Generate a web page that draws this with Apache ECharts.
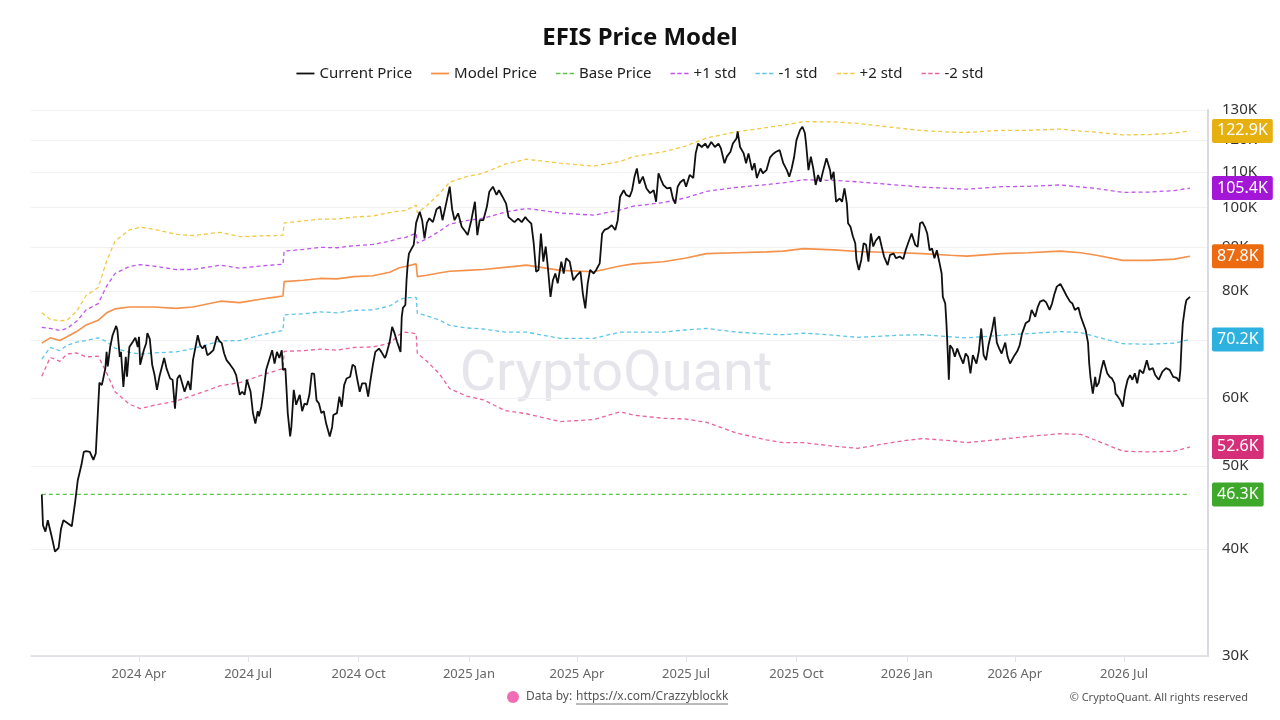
<!DOCTYPE html>
<html><head><meta charset="utf-8">
<script src="https://cdn.jsdelivr.net/npm/echarts@6/dist/echarts.min.js"></script>
<style>html,body{margin:0;padding:0;background:#fff}#c{width:1280px;height:720px}</style>
</head><body><div id="c"></div>
<script>
// x positions are days since 2024-01-02, values in thousands of USD
const START_DATE = '2024-01-02';
const X_END_DAY = 981;
const yTicks = [30,40,50,60,70,80,90,100,110,120,130];
const xTickDates = ['2024-04-01','2024-07-01','2024-10-01','2025-01-01','2025-04-01','2025-07-01','2025-10-01','2026-01-01','2026-04-01','2026-07-01'];
const xTickLabels = ['2024 Apr','2024 Jul','2024 Oct','2025 Jan','2025 Apr','2025 Jul','2025 Oct','2026 Jan','2026 Apr','2026 Jul'];
const seriesNames = ['Current Price','Model Price','Base Price','+1 std','-1 std','+2 std','-2 std'];

const currentPrice = [[9,46.3],[10,42.6],[12,41.9],[14,43.2],[17,41.5],[20,39.7],[23,40.1],[25,42.2],[27,43.2],[30,42.9],[34,42.5],[37,45.6],[39,48.1],[42,50.1],[44,51.9],[46,52.0],[49,51.9],[52,50.8],[54,51.7],[57,62.5],[59,62.1],[60,63.0],[62,65.0],[63,67.9],[64,65.3],[66,68.8],[68,71.0],[71,72.8],[72,72.0],[74,67.0],[75,67.9],[77,61.8],[79,67.0],[80,63.5],[82,68.8],[85,69.8],[87,70.5],[89,68.8],[90,70.7],[91,65.6],[94,68.2],[96,69.5],[97,71.4],[99,70.3],[101,65.6],[103,63.8],[105,61.3],[107,63.5],[111,66.8],[113,64.9],[116,63.2],[118,63.0],[120,58.3],[122,63.2],[124,63.8],[126,62.4],[128,61.0],[131,62.8],[133,61.3],[135,66.4],[139,71.0],[141,69.1],[143,68.5],[145,69.1],[147,67.3],[149,67.6],[152,68.2],[155,70.8],[157,69.9],[159,69.5],[161,67.6],[163,66.4],[166,65.6],[169,64.7],[171,63.8],[174,60.5],[176,61.0],[178,60.5],[180,63.0],[183,61.0],[185,57.6],[187,56.0],[189,57.9],[190,57.1],[192,58.6],[194,61.3],[196,64.7],[199,66.8],[201,68.2],[203,65.8],[205,67.9],[207,66.8],[209,68.2],[210,64.7],[212,64.9],[213,61.3],[214,57.6],[216,54.1],[217,55.5],[219,61.3],[221,58.9],[224,60.5],[226,57.9],[228,59.1],[230,58.9],[232,60.5],[234,64.1],[236,64.0],[238,59.6],[240,59.1],[242,57.6],[244,57.9],[246,56.0],[249,54.1],[251,55.5],[252,57.3],[255,57.6],[257,60.2],[259,58.6],[261,62.1],[263,63.2],[266,63.5],[268,65.6],[270,65.3],[272,63.0],[274,61.0],[276,62.4],[279,62.4],[281,60.2],[283,63.0],[285,65.6],[287,67.9],[290,68.5],[292,67.9],[295,66.8],[296,67.3],[299,69.8],[301,72.6],[303,71.4],[305,69.8],[307,68.5],[308,67.9],[309,74.6],[310,76.4],[312,77.0],[313,82.3],[314,86.1],[315,88.4],[318,90.0],[319,90.5],[321,96.0],[324,98.9],[326,96.7],[328,92.1],[330,96.0],[332,97.2],[335,96.2],[338,99.6],[341,100.3],[343,96.7],[346,101.1],[349,105.8],[351,99.6],[353,96.7],[356,98.5],[359,95.0],[362,93.8],[364,92.9],[367,96.7],[370,101.6],[372,92.9],[374,96.7],[377,96.7],[380,100.3],[382,104.4],[385,105.8],[388,103.5],[390,104.8],[393,103.0],[396,101.1],[398,97.5],[401,96.7],[403,96.2],[406,97.1],[409,96.2],[412,97.5],[414,96.7],[417,95.8],[419,90.9],[421,84.2],[423,84.6],[425,93.3],[427,86.5],[429,90.1],[431,84.6],[433,78.7],[435,82.3],[437,83.8],[439,81.6],[442,86.5],[444,83.8],[446,87.3],[449,86.5],[452,82.3],[455,83.4],[458,84.2],[460,79.3],[462,76.3],[464,81.6],[466,84.6],[469,83.8],[471,84.6],[474,86.1],[476,93.3],[478,94.2],[481,94.6],[484,95.4],[487,94.2],[489,96.7],[491,103.0],[494,104.8],[496,103.5],[499,103.0],[501,104.8],[503,108.7],[505,111.1],[507,106.7],[510,108.7],[513,105.3],[516,104.0],[519,104.8],[521,101.6],[523,109.7],[525,107.9],[527,106.3],[530,105.3],[533,105.5],[535,102.5],[537,101.1],[539,105.8],[541,107.0],[544,107.9],[546,105.8],[549,109.2],[552,108.3],[554,115.7],[556,118.8],[559,117.7],[562,118.8],[564,117.4],[567,119.3],[570,117.7],[573,118.8],[575,117.3],[578,112.7],[580,114.7],[583,116.2],[585,118.8],[588,120.4],[589,122.7],[591,117.7],[594,115.7],[596,112.7],[598,115.7],[601,110.6],[603,112.7],[605,108.3],[608,111.1],[610,109.7],[613,110.6],[616,114.5],[619,115.7],[621,116.2],[624,116.7],[627,112.7],[630,110.6],[632,108.7],[634,111.1],[636,114.5],[638,119.9],[641,123.2],[643,124.3],[645,122.2],[646,118.8],[648,110.6],[650,114.7],[652,111.1],[654,106.3],[656,109.2],[658,107.2],[660,110.1],[663,114.2],[666,110.6],[667,107.9],[669,110.1],[671,101.6],[674,102.5],[676,101.6],[678,105.3],[680,101.1],[681,95.9],[683,95.0],[685,92.6],[687,90.9],[688,86.9],[690,84.6],[692,86.9],[694,90.9],[696,90.5],[698,86.5],[700,93.3],[702,90.1],[704,91.5],[707,92.6],[709,90.1],[711,87.7],[712,88.0],[714,85.7],[716,88.1],[719,88.4],[721,87.3],[724,87.7],[727,87.1],[729,89.2],[731,90.9],[734,93.3],[737,90.5],[739,90.0],[741,95.9],[743,96.2],[745,95.0],[747,93.3],[749,89.2],[751,89.6],[753,87.3],[755,89.2],[757,86.5],[759,83.8],[760,78.7],[762,77.3],[763,73.3],[764,68.2],[765,63.0],[766,69.1],[768,68.5],[770,67.0],[772,68.5],[774,67.3],[777,65.8],[779,67.6],[781,67.0],[783,64.1],[785,67.3],[788,65.8],[790,68.0],[792,72.3],[794,67.3],[796,66.4],[798,69.1],[801,72.0],[803,74.6],[805,69.6],[807,68.5],[809,67.6],[812,69.6],[814,67.0],[816,65.8],[819,67.0],[822,68.0],[824,69.1],[826,71.3],[829,73.3],[832,73.8],[834,76.0],[837,74.6],[839,76.5],[841,77.7],[844,78.0],[846,77.6],[849,76.0],[851,77.3],[853,79.3],[855,80.9],[858,81.5],[859,81.9],[861,80.0],[863,79.0],[866,77.7],[868,77.3],[870,76.0],[873,76.5],[875,74.6],[877,73.3],[879,72.0],[881,69.6],[882,65.8],[883,63.5],[885,60.7],[887,63.5],[888,61.8],[890,62.5],[892,64.7],[894,66.4],[897,64.1],[899,63.5],[901,63.2],[903,62.4],[904,60.7],[906,60.2],[908,59.6],[910,58.6],[912,61.3],[914,63.0],[916,63.8],[918,63.0],[920,64.1],[922,62.4],[924,64.7],[927,64.1],[930,66.4],[932,64.7],[935,65.0],[937,63.8],[940,63.0],[943,64.4],[946,65.0],[949,64.7],[952,63.5],[955,63.3],[957,62.7],[958,64.7],[959,69.5],[960,73.3],[962,76.8],[963,78.0],[964,78.4],[966,78.7]];

const basePrice = [[9,46.3],[966,46.3]];

const bandDays = [9,16,24,30,38,46,56,63,70,82,91,102,121,135,158,174,191,205,210,211,227,241,255,269,285,299,307,312,321,322,330,340,349,363,377,395,413,441,469,491,502,527,545,563,588,613,627,644,669,689,724,743,766,780,809,831,858,875,888,910,932,953,966];

const modelPrice = [69.5,70.5,70.0,70.7,71.7,73.0,73.9,75.4,76.2,76.6,
76.6,76.6,76.3,76.6,77.8,77.5,78.2,78.7,78.9,82.0,
82.3,82.7,82.6,83.1,83.3,84.1,85.1,85.4,86.0,83.1,
83.4,83.9,84.3,84.5,84.7,85.2,85.7,84.5,84.2,85.5,
86.0,86.5,87.3,88.4,88.6,88.8,89.0,89.6,89.3,88.9,
88.6,88.4,88.0,87.8,88.4,88.6,89.0,88.6,88.0,86.8,
86.8,87.1,87.79];

const plus1Std = [72.5,72.3,71.9,72.3,73.7,76.0,77.3,81.0,83.8,85.4,
85.8,85.5,84.7,84.7,85.7,85.0,85.5,85.8,85.9,89.0,
89.4,89.9,89.8,90.3,90.6,91.4,92.1,92.3,93.4,90.9,
92.0,93.8,95.7,96.6,97.2,98.8,99.8,98.6,98.0,99.4,
100.4,101.4,102.6,104.5,105.6,106.4,106.9,107.8,107.6,107.2,
106.2,105.7,105.3,105.1,105.8,105.9,106.3,105.7,105.3,104.2,
104.3,104.7,105.4];

const minus1Std = [66.6,68.7,68.1,69.1,69.7,70.0,70.5,69.8,68.6,67.8,
67.5,67.7,67.9,68.5,69.9,70.0,71.0,71.7,71.9,75.0,
75.2,75.6,75.4,75.9,76.0,76.8,78.1,78.5,78.6,75.3,
74.8,74.0,72.9,72.4,72.2,71.6,71.6,70.4,70.4,71.6,
71.6,71.6,72.0,72.3,71.6,71.2,71.1,71.4,71.0,70.6,
71.0,71.1,70.7,70.5,71.0,71.3,71.7,71.5,70.7,69.4,
69.3,69.5,70.2];

const plus2Std = [75.4,74.1,73.8,73.9,75.7,79.0,80.7,86.6,91.4,94.2,
94.9,94.4,93.1,92.8,93.6,92.5,92.7,92.8,92.9,96.0,
96.5,97.0,97.0,97.5,97.8,98.7,99.1,99.2,100.7,98.6,
100.6,103.7,107.1,108.7,109.7,112.4,113.9,112.7,111.8,113.2,
114.7,116.2,117.9,120.6,122.6,124.0,124.8,126.0,125.9,125.4,
123.8,123.0,122.5,122.4,123.1,123.1,123.5,122.8,122.5,121.6,
121.7,122.2,122.9];

const minus2Std = [63.6,66.9,66.2,67.5,67.7,67.0,67.1,64.2,61.0,59.0,
58.3,58.8,59.5,60.4,62.0,62.5,63.7,64.6,64.9,68.0,
68.1,68.4,68.2,68.7,68.8,69.5,71.1,71.6,71.3,67.6,
66.2,64.1,61.5,60.3,59.7,58.0,57.5,56.3,56.6,57.8,
57.3,56.8,56.7,56.2,54.6,53.6,53.2,53.2,52.7,52.4,
53.4,53.8,53.5,53.2,53.7,54.1,54.5,54.4,53.5,52.0,
51.9,52.0,52.6];

const DAY_MS = 86400000;
const t0 = Date.parse(START_DATE);
const xTickDays = xTickDates.map(s => Math.round((Date.parse(s) - t0) / DAY_MS));
const FONT = "'Noto Sans', 'Open Sans', sans-serif";
const ICON_SOLID = 'path://M0,0M18,10M0,4.1L18,4.1L18,5.9L0,5.9Z';
const ICON_DASH = 'path://M0,0M18,10M0,4.3h4.4v1.4h-4.4zM6.8,4.3h4.4v1.4h-4.4zM13.6,4.3h4.4v1.4h-4.4z';

function badge(color) {
  return {
    show: true,
    formatter: p => Number(p.value[1]).toFixed(1) + 'K',
    backgroundColor: color, color: '#fff', fontSize: 16, fontFamily: FONT,
    padding: [4, 5, 4, 5], borderRadius: 2, distance: 22
  };
}
function bandLine(name, vals, color, badgeColor, dashed) {
  return {
    name, type: 'line', symbol: 'none', showSymbol: false, silent: true, z: 3,
    data: bandDays.map((d, i) => [d, vals[i]]),
    lineStyle: { color, width: dashed ? 1.3 : 1.6, type: dashed ? [4, 3] : 'solid' },
    itemStyle: { color },
    endLabel: badge(badgeColor)
  };
}

const chart = echarts.init(document.getElementById('c'), null, { renderer: 'canvas' });
chart.setOption({
  animation: false,
  backgroundColor: '#fff',
  textStyle: { fontFamily: FONT },
  title: {
    text: 'EFIS Price Model', left: 'center', top: 21,
    textStyle: { fontSize: 24, fontWeight: 'bold', color: '#111', fontFamily: FONT }
  },
  legend: {
    data: seriesNames.map((n, i) => ({ name: n, icon: i < 2 ? ICON_SOLID : ICON_DASH })),
    top: 61, left: 'center',
    itemWidth: 18, itemHeight: 10, itemGap: 19,
    textStyle: { fontSize: 15, color: '#222', fontFamily: FONT }
  },
  grid: { left: 31, right: 72, top: 110, bottom: 64, containLabel: false },
  xAxis: {
    type: 'value', min: 0, max: X_END_DAY,
    axisLine: { show: true, onZero: false, lineStyle: { color: '#dcdde5', width: 1.5 } },
    axisTick: { show: true, customValues: xTickDays, length: 6, lineStyle: { color: '#e2e2e8' } },
    axisLabel: {
      customValues: xTickDays, fontSize: 13, color: '#666', margin: 12, fontFamily: FONT,
      formatter: v => { const i = xTickDays.indexOf(Math.round(v)); return i >= 0 ? xTickLabels[i] : ''; }
    },
    splitLine: { show: false }
  },
  yAxis: {
    type: 'log', logBase: 10, min: 30, max: 130, position: 'right',
    axisLine: { show: true, onZero: false, lineStyle: { color: '#d9dae3', width: 2 } },
    axisTick: { show: false, customValues: yTicks },
    axisLabel: {
      customValues: yTicks, fontSize: 15, color: '#333', margin: 14, fontFamily: FONT,
      formatter: v => Math.round(v) + 'K'
    },
    splitLine: { show: true, lineStyle: { color: '#f1f1f3', width: 1 } }
  },
  graphic: [
    { type: 'text', z: 0, silent: true,
      style: { text: 'CryptoQuant', x: 616, y: 376, align: 'center', verticalAlign: 'middle',
        fontSize: 56, fontFamily: 'Roboto, sans-serif', fontWeight: 400, fill: '#e5e5eb' } },
    { type: 'circle', silent: true, shape: { cx: 513, cy: 697, r: 6 }, style: { fill: '#f06cb4' } },
    { type: 'text', silent: true,
      style: { text: 'Data by:', x: 526, y: 697, align: 'left', verticalAlign: 'middle',
        fontSize: 12, fontFamily: FONT, fill: '#555' } },
    { type: 'text', silent: true,
      style: { text: 'https://x.com/Crazzyblockk', x: 576, y: 697, align: 'left', verticalAlign: 'middle',
        fontSize: 12, fontFamily: FONT, fill: '#555' } },
    { type: 'line', silent: true, shape: { x1: 576, y1: 704, x2: 728, y2: 704 }, style: { stroke: '#777', lineWidth: 1 } },
    { type: 'text', silent: true,
      style: { text: '\u00A9 CryptoQuant. All rights reserved', x: 1248, y: 698, align: 'right', verticalAlign: 'middle',
        fontSize: 11, fontFamily: FONT, fill: '#555' } }
  ],
  series: [
    { name: 'Current Price', type: 'line', symbol: 'none', showSymbol: false, silent: true, z: 6,
      data: currentPrice,
      lineStyle: { color: '#111', width: 1.8 }, itemStyle: { color: '#111' } },
    bandLine('Model Price', modelPrice, '#f4914b', '#ec6a10', false),
    { name: 'Base Price', type: 'line', symbol: 'none', showSymbol: false, silent: true, z: 3,
      data: basePrice,
      lineStyle: { color: '#5cc446', width: 1.3, type: [4, 3] }, itemStyle: { color: '#5cc446' },
      endLabel: badge('#3da82a') },
    bandLine('+1 std', plus1Std, '#bf55ea', '#a316d6', true),
    bandLine('-1 std', minus1Std, '#5cc6e8', '#2eb1df', true),
    bandLine('+2 std', plus2Std, '#f3c843', '#e6b110', true),
    bandLine('-2 std', minus2Std, '#e9639e', '#d52f7a', true)
  ]
});
</script></body></html>
